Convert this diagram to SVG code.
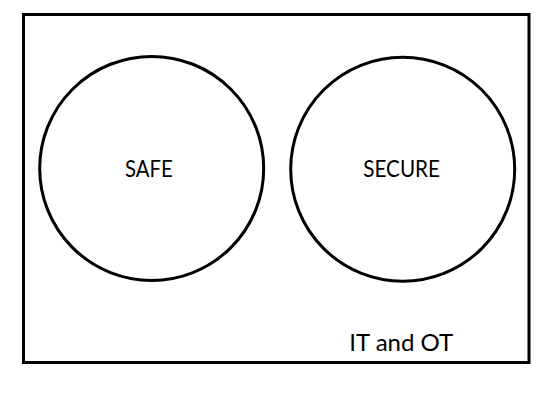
<svg xmlns="http://www.w3.org/2000/svg" width="551" height="403" viewBox="0 0 551 403">
<style>
.shape{fill:#ffffff;stroke:#000000;stroke-width:3}
.lbl{font-family:Lato,"Open Sans","Liberation Sans",sans-serif;font-size:23px;fill:#000000}
</style>
<rect width="551" height="403" fill="#ffffff"/>
<g id="frame">
<rect class="shape" x="23.5" y="14.5" width="505.5" height="348"/>
<text class="lbl" x="349.3" y="351" textLength="104" lengthAdjust="spacingAndGlyphs">IT and OT</text>
</g>
<g id="safe">
<circle class="shape" cx="151.7" cy="168.4" r="112"/>
<text class="lbl" x="125" y="177.3" textLength="47.7" lengthAdjust="spacingAndGlyphs">SAFE</text>
</g>
<g id="secure">
<circle class="shape" cx="402.7" cy="169.2" r="112"/>
<text class="lbl" x="363.3" y="176.7" textLength="76.7" lengthAdjust="spacingAndGlyphs">SECURE</text>
</g>
<g id="connectors"></g>
</svg>
